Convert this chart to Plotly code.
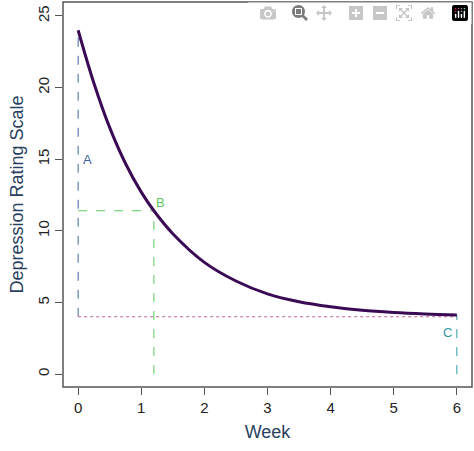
import plotly.graph_objects as go

weeks = [0, 0.25, 0.5, 0.75, 1, 1.2, 1.5, 2, 2.5, 3, 3.5, 4, 4.5, 5, 5.5, 6]
scores = [24, 20.3, 17.2, 14.7, 12.7, 11.4, 9.8, 7.8, 6.5, 5.6, 5.05, 4.7, 4.45, 4.3, 4.2, 4.13]
xticks = [0, 1, 2, 3, 4, 5, 6]
yticks = [0, 5, 10, 15, 20, 25]
baseline, asymptote = 24, 4
b_week, b_score = 1.2, 11.4
end_week, end_score = 6, 4.13

fig = go.Figure()
def seg(x, y, color, dash):
    fig.add_trace(go.Scatter(x=x, y=y, mode="lines", line=dict(color=color, width=1, dash=dash),
                             hoverinfo="skip", showlegend=False))
seg([0, 0], [asymptote, baseline], "#3f63a0", "dash")
seg([0, b_week], [b_score, b_score], "#5cc95c", "dash")
seg([b_week, b_week], [0, b_score], "#5cc95c", "dash")
seg([0, end_week], [asymptote, asymptote], "#c060a0", "dot")
seg([end_week, end_week], [0, end_score], "#2f9aa0", "dash")
fig.add_trace(go.Scatter(x=weeks, y=scores, mode="lines", line=dict(color="#3b0a55", width=3, shape="spline"),
                         showlegend=False))
for t, x, y, c in [("A", 0.15, 15, "#3f63a0"), ("B", 1.3, 12.0, "#5cc95c"), ("C", 5.85, 2.9, "#2f9aa0")]:
    fig.add_annotation(x=x, y=y, text=t, showarrow=False, font=dict(color=c, size=13, family="Liberation Sans"))

fig.add_shape(type="rect", xref="paper", yref="paper", x0=0, y0=0, x1=1, y1=1, line=dict(color="#555", width=1.5))
ax = dict(showgrid=False, zeroline=False, ticks="outside", ticklen=7, tickcolor="#555", showline=False,
          tickfont=dict(size=15, family="Liberation Sans", color="#222"))
fig.update_xaxes(range=[-0.24, 6.24], tickvals=xticks, title=dict(text="Week", font=dict(size=18, family="Liberation Sans"), standoff=10), **ax)
fig.update_yaxes(range=[-0.9, 25.97], tickvals=yticks, tickangle=-90,
                 title=dict(text="Depression Rating Scale", font=dict(size=18, family="Liberation Sans"), standoff=6), **ax)
fig.update_layout(width=474, height=451, margin=dict(l=63, r=2, t=2, b=64), plot_bgcolor="white", paper_bgcolor="white")
fig.write_html("out.html", post_script="document.body.style.margin='0';document.body.style.overflow='hidden';")
